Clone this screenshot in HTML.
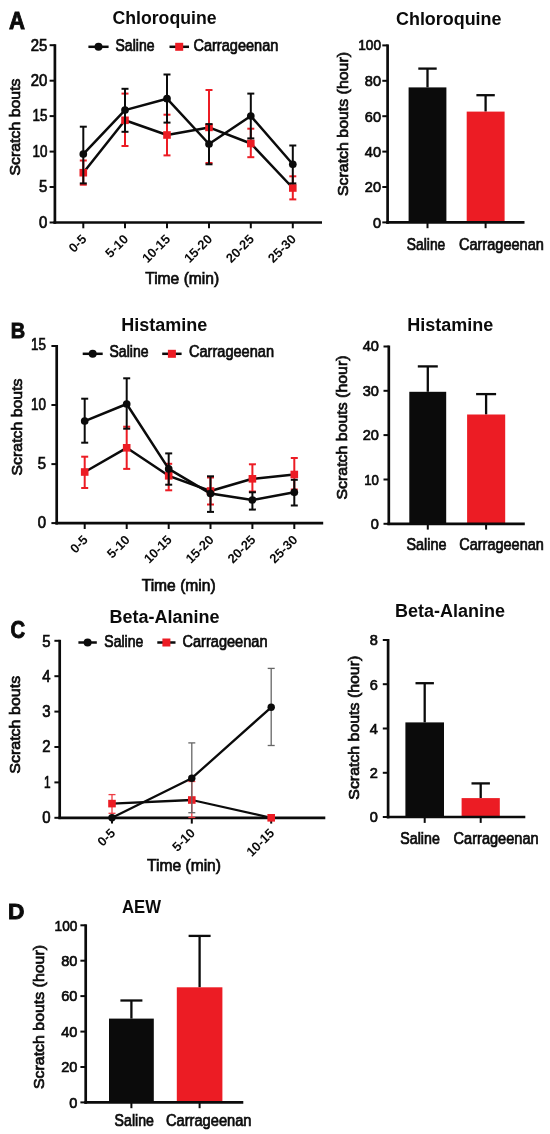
<!DOCTYPE html>
<html><head><meta charset="utf-8"><title>Figure</title>
<style>html,body{margin:0;padding:0;background:#fff}svg{display:block;font-family:"Liberation Sans", sans-serif}</style></head>
<body><svg width="550" height="1134" viewBox="0 0 550 1134">
<rect width="550" height="1134" fill="#fff"/>
<!-- Panel A line -->
<line x1="54.9" y1="44.2" x2="54.9" y2="223.8" stroke="#0b0b0b" stroke-width="2.7"/>
<line x1="53.5" y1="222.5" x2="322.0" y2="222.5" stroke="#0b0b0b" stroke-width="2.7"/>
<line x1="49.6" y1="222.5" x2="54.9" y2="222.5" stroke="#0b0b0b" stroke-width="2.0"/>
<text x="47.4" y="227.8" font-size="15.8" text-anchor="end" fill="#0b0b0b" stroke="#0b0b0b" stroke-width="0.7" textLength="8.3" lengthAdjust="spacingAndGlyphs">0</text>
<line x1="49.6" y1="187.0" x2="54.9" y2="187.0" stroke="#0b0b0b" stroke-width="2.0"/>
<text x="47.4" y="192.34" font-size="15.8" text-anchor="end" fill="#0b0b0b" stroke="#0b0b0b" stroke-width="0.7" textLength="8.3" lengthAdjust="spacingAndGlyphs">5</text>
<line x1="49.6" y1="151.6" x2="54.9" y2="151.6" stroke="#0b0b0b" stroke-width="2.0"/>
<text x="47.4" y="156.88" font-size="15.8" text-anchor="end" fill="#0b0b0b" stroke="#0b0b0b" stroke-width="0.7" textLength="14.9" lengthAdjust="spacingAndGlyphs">10</text>
<line x1="49.6" y1="116.1" x2="54.9" y2="116.1" stroke="#0b0b0b" stroke-width="2.0"/>
<text x="47.4" y="121.41999999999997" font-size="15.8" text-anchor="end" fill="#0b0b0b" stroke="#0b0b0b" stroke-width="0.7" textLength="14.9" lengthAdjust="spacingAndGlyphs">15</text>
<line x1="49.6" y1="80.7" x2="54.9" y2="80.7" stroke="#0b0b0b" stroke-width="2.0"/>
<text x="47.4" y="85.96" font-size="15.8" text-anchor="end" fill="#0b0b0b" stroke="#0b0b0b" stroke-width="0.7" textLength="16.6" lengthAdjust="spacingAndGlyphs">20</text>
<line x1="49.6" y1="45.2" x2="54.9" y2="45.2" stroke="#0b0b0b" stroke-width="2.0"/>
<text x="47.4" y="50.499999999999986" font-size="15.8" text-anchor="end" fill="#0b0b0b" stroke="#0b0b0b" stroke-width="0.7" textLength="16.6" lengthAdjust="spacingAndGlyphs">25</text>
<line x1="83.3" y1="222.5" x2="83.3" y2="228.3" stroke="#0b0b0b" stroke-width="2.0"/>
<text x="87.3" y="240.0" font-size="13" text-anchor="end" fill="#0b0b0b" font-weight="bold" transform="rotate(-45 87.3 240.0)">0-5</text>
<line x1="125.0" y1="222.5" x2="125.0" y2="228.3" stroke="#0b0b0b" stroke-width="2.0"/>
<text x="129" y="240.0" font-size="13" text-anchor="end" fill="#0b0b0b" font-weight="bold" transform="rotate(-45 129 240.0)">5-10</text>
<line x1="167.0" y1="222.5" x2="167.0" y2="228.3" stroke="#0b0b0b" stroke-width="2.0"/>
<text x="171" y="240.0" font-size="13" text-anchor="end" fill="#0b0b0b" font-weight="bold" transform="rotate(-45 171 240.0)">10-15</text>
<line x1="209.0" y1="222.5" x2="209.0" y2="228.3" stroke="#0b0b0b" stroke-width="2.0"/>
<text x="213" y="240.0" font-size="13" text-anchor="end" fill="#0b0b0b" font-weight="bold" transform="rotate(-45 213 240.0)">15-20</text>
<line x1="250.8" y1="222.5" x2="250.8" y2="228.3" stroke="#0b0b0b" stroke-width="2.0"/>
<text x="254.8" y="240.0" font-size="13" text-anchor="end" fill="#0b0b0b" font-weight="bold" transform="rotate(-45 254.8 240.0)">20-25</text>
<line x1="292.8" y1="222.5" x2="292.8" y2="228.3" stroke="#0b0b0b" stroke-width="2.0"/>
<text x="296.8" y="240.0" font-size="13" text-anchor="end" fill="#0b0b0b" font-weight="bold" transform="rotate(-45 296.8 240.0)">25-30</text>
<line x1="83.3" y1="160.5" x2="83.3" y2="184.7" stroke="#ec1c24" stroke-width="2.0"/>
<line x1="79.8" y1="160.5" x2="86.8" y2="160.5" stroke="#ec1c24" stroke-width="2.0"/>
<line x1="79.8" y1="184.7" x2="86.8" y2="184.7" stroke="#ec1c24" stroke-width="2.0"/>
<line x1="125.0" y1="93.6" x2="125.0" y2="146.0" stroke="#ec1c24" stroke-width="2.0"/>
<line x1="121.5" y1="93.6" x2="128.5" y2="93.6" stroke="#ec1c24" stroke-width="2.0"/>
<line x1="121.5" y1="146.0" x2="128.5" y2="146.0" stroke="#ec1c24" stroke-width="2.0"/>
<line x1="167.0" y1="114.7" x2="167.0" y2="155.4" stroke="#ec1c24" stroke-width="2.0"/>
<line x1="163.5" y1="114.7" x2="170.5" y2="114.7" stroke="#ec1c24" stroke-width="2.0"/>
<line x1="163.5" y1="155.4" x2="170.5" y2="155.4" stroke="#ec1c24" stroke-width="2.0"/>
<line x1="209.0" y1="90.0" x2="209.0" y2="163.0" stroke="#ec1c24" stroke-width="2.0"/>
<line x1="205.5" y1="90.0" x2="212.5" y2="90.0" stroke="#ec1c24" stroke-width="2.0"/>
<line x1="205.5" y1="163.0" x2="212.5" y2="163.0" stroke="#ec1c24" stroke-width="2.0"/>
<line x1="250.8" y1="128.7" x2="250.8" y2="157.2" stroke="#ec1c24" stroke-width="2.0"/>
<line x1="247.3" y1="128.7" x2="254.3" y2="128.7" stroke="#ec1c24" stroke-width="2.0"/>
<line x1="247.3" y1="157.2" x2="254.3" y2="157.2" stroke="#ec1c24" stroke-width="2.0"/>
<line x1="292.8" y1="176.3" x2="292.8" y2="199.4" stroke="#ec1c24" stroke-width="2.0"/>
<line x1="289.3" y1="176.3" x2="296.3" y2="176.3" stroke="#ec1c24" stroke-width="2.0"/>
<line x1="289.3" y1="199.4" x2="296.3" y2="199.4" stroke="#ec1c24" stroke-width="2.0"/>
<polyline fill="none" stroke="#0b0b0b" stroke-width="2.5" stroke-linejoin="round" points="83.3,172.7 125.0,120.3 167.0,135.0 209.0,127.4 250.8,143.5 292.8,188.0"/>
<rect x="79.5" y="168.9" width="7.6" height="7.6" fill="#ec1c24"/>
<rect x="121.2" y="116.5" width="7.6" height="7.6" fill="#ec1c24"/>
<rect x="163.2" y="131.2" width="7.6" height="7.6" fill="#ec1c24"/>
<rect x="205.2" y="123.6" width="7.6" height="7.6" fill="#ec1c24"/>
<rect x="247.0" y="139.7" width="7.6" height="7.6" fill="#ec1c24"/>
<rect x="289.0" y="184.2" width="7.6" height="7.6" fill="#ec1c24"/>
<line x1="83.3" y1="126.7" x2="83.3" y2="183.4" stroke="#0b0b0b" stroke-width="2.0"/>
<line x1="79.8" y1="126.7" x2="86.8" y2="126.7" stroke="#0b0b0b" stroke-width="2.0"/>
<line x1="79.8" y1="183.4" x2="86.8" y2="183.4" stroke="#0b0b0b" stroke-width="2.0"/>
<line x1="125.0" y1="88.8" x2="125.0" y2="131.8" stroke="#0b0b0b" stroke-width="2.0"/>
<line x1="121.5" y1="88.8" x2="128.5" y2="88.8" stroke="#0b0b0b" stroke-width="2.0"/>
<line x1="121.5" y1="131.8" x2="128.5" y2="131.8" stroke="#0b0b0b" stroke-width="2.0"/>
<line x1="167.0" y1="74.5" x2="167.0" y2="122.6" stroke="#0b0b0b" stroke-width="2.0"/>
<line x1="163.5" y1="74.5" x2="170.5" y2="74.5" stroke="#0b0b0b" stroke-width="2.0"/>
<line x1="163.5" y1="122.6" x2="170.5" y2="122.6" stroke="#0b0b0b" stroke-width="2.0"/>
<line x1="209.0" y1="124.1" x2="209.0" y2="164.3" stroke="#0b0b0b" stroke-width="2.0"/>
<line x1="205.5" y1="124.1" x2="212.5" y2="124.1" stroke="#0b0b0b" stroke-width="2.0"/>
<line x1="205.5" y1="164.3" x2="212.5" y2="164.3" stroke="#0b0b0b" stroke-width="2.0"/>
<line x1="250.8" y1="93.6" x2="250.8" y2="138.4" stroke="#0b0b0b" stroke-width="2.0"/>
<line x1="247.3" y1="93.6" x2="254.3" y2="93.6" stroke="#0b0b0b" stroke-width="2.0"/>
<line x1="247.3" y1="138.4" x2="254.3" y2="138.4" stroke="#0b0b0b" stroke-width="2.0"/>
<line x1="292.8" y1="145.5" x2="292.8" y2="183.4" stroke="#0b0b0b" stroke-width="2.0"/>
<line x1="289.3" y1="145.5" x2="296.3" y2="145.5" stroke="#0b0b0b" stroke-width="2.0"/>
<line x1="289.3" y1="183.4" x2="296.3" y2="183.4" stroke="#0b0b0b" stroke-width="2.0"/>
<polyline fill="none" stroke="#0b0b0b" stroke-width="2.5" stroke-linejoin="round" points="83.3,154.1 125.0,110.1 167.0,98.7 209.0,144.0 250.8,116.0 292.8,164.3"/>
<circle cx="83.3" cy="154.1" r="3.85" fill="#0b0b0b"/>
<circle cx="125.0" cy="110.1" r="3.85" fill="#0b0b0b"/>
<circle cx="167.0" cy="98.7" r="3.85" fill="#0b0b0b"/>
<circle cx="209.0" cy="144.0" r="3.85" fill="#0b0b0b"/>
<circle cx="250.8" cy="116.0" r="3.85" fill="#0b0b0b"/>
<circle cx="292.8" cy="164.3" r="3.85" fill="#0b0b0b"/>
<text x="112.5" y="23.5" font-size="17.5" text-anchor="start" fill="#0b0b0b" font-weight="bold" textLength="104" lengthAdjust="spacingAndGlyphs">Chloroquine</text>
<text x="8.9" y="29.2" font-size="23.3" text-anchor="start" fill="#0b0b0b" font-weight="bold" stroke="#0b0b0b" stroke-width="0.9" textLength="16.0" lengthAdjust="spacingAndGlyphs">A</text>
<line x1="88.4" y1="46.8" x2="108.6" y2="46.8" stroke="#0b0b0b" stroke-width="2.5"/>
<circle cx="98.5" cy="46.8" r="4" fill="#0b0b0b"/>
<text x="115.5" y="51.4" font-size="15.6" text-anchor="start" fill="#0b0b0b" stroke="#0b0b0b" stroke-width="0.7" textLength="39" lengthAdjust="spacingAndGlyphs">Saline</text>
<line x1="169.5" y1="46.8" x2="189.0" y2="46.8" stroke="#0b0b0b" stroke-width="2.5"/>
<rect x="175.2" y="42.8" width="8.0" height="8.0" fill="#ec1c24"/>
<text x="193.4" y="51.4" font-size="15.6" text-anchor="start" fill="#0b0b0b" stroke="#0b0b0b" stroke-width="0.7" textLength="85" lengthAdjust="spacingAndGlyphs">Carrageenan</text>
<text x="19.9" y="127" font-size="15.5" text-anchor="middle" fill="#0b0b0b" stroke="#0b0b0b" stroke-width="0.7" transform="rotate(-90 19.9 127)" textLength="97" lengthAdjust="spacingAndGlyphs">Scratch bouts</text>
<text x="145.2" y="284.4" font-size="15.6" text-anchor="start" fill="#0b0b0b" stroke="#0b0b0b" stroke-width="0.7" textLength="74" lengthAdjust="spacingAndGlyphs">Time (min)</text>
<!-- Panel A bar -->
<line x1="427.5" y1="68.6" x2="427.5" y2="87.4" stroke="#0b0b0b" stroke-width="2.3"/>
<line x1="418.3" y1="68.6" x2="436.7" y2="68.6" stroke="#0b0b0b" stroke-width="2.3"/>
<rect x="408.6" y="87.4" width="37.8" height="135.0" fill="#0b0b0b"/>
<line x1="427.5" y1="222.4" x2="427.5" y2="228.2" stroke="#0b0b0b" stroke-width="2.0"/>
<line x1="485.6" y1="95.2" x2="485.6" y2="111.6" stroke="#0b0b0b" stroke-width="2.3"/>
<line x1="476.4" y1="95.2" x2="494.8" y2="95.2" stroke="#0b0b0b" stroke-width="2.3"/>
<rect x="466.7" y="111.6" width="37.9" height="110.8" fill="#ec1c24"/>
<line x1="485.6" y1="222.4" x2="485.6" y2="228.2" stroke="#0b0b0b" stroke-width="2.0"/>
<line x1="387.6" y1="44.4" x2="387.6" y2="223.8" stroke="#0b0b0b" stroke-width="2.7"/>
<line x1="386.2" y1="222.4" x2="524.5" y2="222.4" stroke="#0b0b0b" stroke-width="2.7"/>
<line x1="382.3" y1="222.4" x2="387.6" y2="222.4" stroke="#0b0b0b" stroke-width="2.0"/>
<text x="381.0" y="227.70000000000002" font-size="15.3" text-anchor="end" fill="#0b0b0b" stroke="#0b0b0b" stroke-width="0.7" textLength="8.1" lengthAdjust="spacingAndGlyphs">0</text>
<line x1="382.3" y1="187.0" x2="387.6" y2="187.0" stroke="#0b0b0b" stroke-width="2.0"/>
<text x="381.0" y="192.3" font-size="15.3" text-anchor="end" fill="#0b0b0b" stroke="#0b0b0b" stroke-width="0.7" textLength="16.2" lengthAdjust="spacingAndGlyphs">20</text>
<line x1="382.3" y1="151.6" x2="387.6" y2="151.6" stroke="#0b0b0b" stroke-width="2.0"/>
<text x="381.0" y="156.90000000000003" font-size="15.3" text-anchor="end" fill="#0b0b0b" stroke="#0b0b0b" stroke-width="0.7" textLength="16.2" lengthAdjust="spacingAndGlyphs">40</text>
<line x1="382.3" y1="116.2" x2="387.6" y2="116.2" stroke="#0b0b0b" stroke-width="2.0"/>
<text x="381.0" y="121.5" font-size="15.3" text-anchor="end" fill="#0b0b0b" stroke="#0b0b0b" stroke-width="0.7" textLength="16.2" lengthAdjust="spacingAndGlyphs">60</text>
<line x1="382.3" y1="80.8" x2="387.6" y2="80.8" stroke="#0b0b0b" stroke-width="2.0"/>
<text x="381.0" y="86.10000000000001" font-size="15.3" text-anchor="end" fill="#0b0b0b" stroke="#0b0b0b" stroke-width="0.7" textLength="16.2" lengthAdjust="spacingAndGlyphs">80</text>
<line x1="382.3" y1="45.4" x2="387.6" y2="45.4" stroke="#0b0b0b" stroke-width="2.0"/>
<text x="381.0" y="49.7" font-size="15.3" text-anchor="end" fill="#0b0b0b" stroke="#0b0b0b" stroke-width="0.7" textLength="22.799999999999997" lengthAdjust="spacingAndGlyphs">100</text>
<text x="396" y="24.7" font-size="17.5" text-anchor="start" fill="#0b0b0b" font-weight="bold" textLength="105.5" lengthAdjust="spacingAndGlyphs">Chloroquine</text>
<text x="348" y="124" font-size="15.5" text-anchor="middle" fill="#0b0b0b" stroke="#0b0b0b" stroke-width="0.7" transform="rotate(-90 348 124)" textLength="144" lengthAdjust="spacingAndGlyphs">Scratch bouts (hour)</text>
<text x="406.8" y="249.8" font-size="15.6" text-anchor="start" fill="#0b0b0b" stroke="#0b0b0b" stroke-width="0.7" textLength="38.5" lengthAdjust="spacingAndGlyphs">Saline</text>
<text x="458.9" y="249.8" font-size="15.6" text-anchor="start" fill="#0b0b0b" stroke="#0b0b0b" stroke-width="0.7" textLength="85" lengthAdjust="spacingAndGlyphs">Carrageenan</text>
<!-- Panel B line -->
<line x1="56.7" y1="345.0" x2="56.7" y2="524.5" stroke="#0b0b0b" stroke-width="2.7"/>
<line x1="55.4" y1="523.1" x2="323.2" y2="523.1" stroke="#0b0b0b" stroke-width="2.7"/>
<line x1="51.4" y1="523.1" x2="56.7" y2="523.1" stroke="#0b0b0b" stroke-width="2.0"/>
<text x="46.0" y="528.4" font-size="15.8" text-anchor="end" fill="#0b0b0b" stroke="#0b0b0b" stroke-width="0.7" textLength="8.3" lengthAdjust="spacingAndGlyphs">0</text>
<line x1="51.4" y1="464.1" x2="56.7" y2="464.1" stroke="#0b0b0b" stroke-width="2.0"/>
<text x="46.0" y="469.3666666666667" font-size="15.8" text-anchor="end" fill="#0b0b0b" stroke="#0b0b0b" stroke-width="0.7" textLength="8.3" lengthAdjust="spacingAndGlyphs">5</text>
<line x1="51.4" y1="405.0" x2="56.7" y2="405.0" stroke="#0b0b0b" stroke-width="2.0"/>
<text x="46.0" y="410.33333333333337" font-size="15.8" text-anchor="end" fill="#0b0b0b" stroke="#0b0b0b" stroke-width="0.7" textLength="14.9" lengthAdjust="spacingAndGlyphs">10</text>
<line x1="51.4" y1="346.0" x2="56.7" y2="346.0" stroke="#0b0b0b" stroke-width="2.0"/>
<text x="46.0" y="350.0" font-size="15.8" text-anchor="end" fill="#0b0b0b" stroke="#0b0b0b" stroke-width="0.7" textLength="14.9" lengthAdjust="spacingAndGlyphs">15</text>
<line x1="84.7" y1="523.1" x2="84.7" y2="529.0" stroke="#0b0b0b" stroke-width="2.0"/>
<text x="88.7" y="540.6" font-size="13" text-anchor="end" fill="#0b0b0b" font-weight="bold" transform="rotate(-45 88.7 540.6)">0-5</text>
<line x1="126.7" y1="523.1" x2="126.7" y2="529.0" stroke="#0b0b0b" stroke-width="2.0"/>
<text x="130.7" y="540.6" font-size="13" text-anchor="end" fill="#0b0b0b" font-weight="bold" transform="rotate(-45 130.7 540.6)">5-10</text>
<line x1="168.7" y1="523.1" x2="168.7" y2="529.0" stroke="#0b0b0b" stroke-width="2.0"/>
<text x="172.7" y="540.6" font-size="13" text-anchor="end" fill="#0b0b0b" font-weight="bold" transform="rotate(-45 172.7 540.6)">10-15</text>
<line x1="210.5" y1="523.1" x2="210.5" y2="529.0" stroke="#0b0b0b" stroke-width="2.0"/>
<text x="214.5" y="540.6" font-size="13" text-anchor="end" fill="#0b0b0b" font-weight="bold" transform="rotate(-45 214.5 540.6)">15-20</text>
<line x1="252.4" y1="523.1" x2="252.4" y2="529.0" stroke="#0b0b0b" stroke-width="2.0"/>
<text x="256.4" y="540.6" font-size="13" text-anchor="end" fill="#0b0b0b" font-weight="bold" transform="rotate(-45 256.4 540.6)">20-25</text>
<line x1="294.3" y1="523.1" x2="294.3" y2="529.0" stroke="#0b0b0b" stroke-width="2.0"/>
<text x="298.3" y="540.6" font-size="13" text-anchor="end" fill="#0b0b0b" font-weight="bold" transform="rotate(-45 298.3 540.6)">25-30</text>
<line x1="84.7" y1="456.7" x2="84.7" y2="488.0" stroke="#ec1c24" stroke-width="2.0"/>
<line x1="81.2" y1="456.7" x2="88.2" y2="456.7" stroke="#ec1c24" stroke-width="2.0"/>
<line x1="81.2" y1="488.0" x2="88.2" y2="488.0" stroke="#ec1c24" stroke-width="2.0"/>
<line x1="126.7" y1="426.7" x2="126.7" y2="468.9" stroke="#ec1c24" stroke-width="2.0"/>
<line x1="123.2" y1="426.7" x2="130.2" y2="426.7" stroke="#ec1c24" stroke-width="2.0"/>
<line x1="123.2" y1="468.9" x2="130.2" y2="468.9" stroke="#ec1c24" stroke-width="2.0"/>
<line x1="168.7" y1="463.8" x2="168.7" y2="490.3" stroke="#ec1c24" stroke-width="2.0"/>
<line x1="165.2" y1="463.8" x2="172.2" y2="463.8" stroke="#ec1c24" stroke-width="2.0"/>
<line x1="165.2" y1="490.3" x2="172.2" y2="490.3" stroke="#ec1c24" stroke-width="2.0"/>
<line x1="210.5" y1="477.5" x2="210.5" y2="504.5" stroke="#ec1c24" stroke-width="2.0"/>
<line x1="207.0" y1="477.5" x2="214.0" y2="477.5" stroke="#ec1c24" stroke-width="2.0"/>
<line x1="207.0" y1="504.5" x2="214.0" y2="504.5" stroke="#ec1c24" stroke-width="2.0"/>
<line x1="252.4" y1="464.3" x2="252.4" y2="491.5" stroke="#ec1c24" stroke-width="2.0"/>
<line x1="248.9" y1="464.3" x2="255.9" y2="464.3" stroke="#ec1c24" stroke-width="2.0"/>
<line x1="248.9" y1="491.5" x2="255.9" y2="491.5" stroke="#ec1c24" stroke-width="2.0"/>
<line x1="294.3" y1="458.0" x2="294.3" y2="489.5" stroke="#ec1c24" stroke-width="2.0"/>
<line x1="290.8" y1="458.0" x2="297.8" y2="458.0" stroke="#ec1c24" stroke-width="2.0"/>
<line x1="290.8" y1="489.5" x2="297.8" y2="489.5" stroke="#ec1c24" stroke-width="2.0"/>
<polyline fill="none" stroke="#0b0b0b" stroke-width="2.5" stroke-linejoin="round" points="84.7,472.0 126.7,447.8 168.7,475.8 210.5,491.0 252.4,478.8 294.3,474.5"/>
<rect x="80.9" y="468.2" width="7.6" height="7.6" fill="#ec1c24"/>
<rect x="122.9" y="444.0" width="7.6" height="7.6" fill="#ec1c24"/>
<rect x="164.9" y="472.0" width="7.6" height="7.6" fill="#ec1c24"/>
<rect x="206.7" y="487.2" width="7.6" height="7.6" fill="#ec1c24"/>
<rect x="248.6" y="475.0" width="7.6" height="7.6" fill="#ec1c24"/>
<rect x="290.5" y="470.7" width="7.6" height="7.6" fill="#ec1c24"/>
<line x1="84.7" y1="398.7" x2="84.7" y2="442.7" stroke="#0b0b0b" stroke-width="2.0"/>
<line x1="81.2" y1="398.7" x2="88.2" y2="398.7" stroke="#0b0b0b" stroke-width="2.0"/>
<line x1="81.2" y1="442.7" x2="88.2" y2="442.7" stroke="#0b0b0b" stroke-width="2.0"/>
<line x1="126.7" y1="378.3" x2="126.7" y2="428.7" stroke="#0b0b0b" stroke-width="2.0"/>
<line x1="123.2" y1="378.3" x2="130.2" y2="378.3" stroke="#0b0b0b" stroke-width="2.0"/>
<line x1="123.2" y1="428.7" x2="130.2" y2="428.7" stroke="#0b0b0b" stroke-width="2.0"/>
<line x1="168.7" y1="453.4" x2="168.7" y2="484.7" stroke="#0b0b0b" stroke-width="2.0"/>
<line x1="165.2" y1="453.4" x2="172.2" y2="453.4" stroke="#0b0b0b" stroke-width="2.0"/>
<line x1="165.2" y1="484.7" x2="172.2" y2="484.7" stroke="#0b0b0b" stroke-width="2.0"/>
<line x1="210.5" y1="476.3" x2="210.5" y2="511.9" stroke="#0b0b0b" stroke-width="2.0"/>
<line x1="207.0" y1="476.3" x2="214.0" y2="476.3" stroke="#0b0b0b" stroke-width="2.0"/>
<line x1="207.0" y1="511.9" x2="214.0" y2="511.9" stroke="#0b0b0b" stroke-width="2.0"/>
<line x1="252.4" y1="492.3" x2="252.4" y2="509.6" stroke="#0b0b0b" stroke-width="2.0"/>
<line x1="248.9" y1="492.3" x2="255.9" y2="492.3" stroke="#0b0b0b" stroke-width="2.0"/>
<line x1="248.9" y1="509.6" x2="255.9" y2="509.6" stroke="#0b0b0b" stroke-width="2.0"/>
<line x1="294.3" y1="479.8" x2="294.3" y2="505.5" stroke="#0b0b0b" stroke-width="2.0"/>
<line x1="290.8" y1="479.8" x2="297.8" y2="479.8" stroke="#0b0b0b" stroke-width="2.0"/>
<line x1="290.8" y1="505.5" x2="297.8" y2="505.5" stroke="#0b0b0b" stroke-width="2.0"/>
<polyline fill="none" stroke="#0b0b0b" stroke-width="2.5" stroke-linejoin="round" points="84.7,421.1 126.7,404.0 168.7,468.9 210.5,493.6 252.4,500.0 294.3,492.3"/>
<circle cx="84.7" cy="421.1" r="3.85" fill="#0b0b0b"/>
<circle cx="126.7" cy="404.0" r="3.85" fill="#0b0b0b"/>
<circle cx="168.7" cy="468.9" r="3.85" fill="#0b0b0b"/>
<circle cx="210.5" cy="493.6" r="3.85" fill="#0b0b0b"/>
<circle cx="252.4" cy="500.0" r="3.85" fill="#0b0b0b"/>
<circle cx="294.3" cy="492.3" r="3.85" fill="#0b0b0b"/>
<text x="121.3" y="331.2" font-size="17.5" text-anchor="start" fill="#0b0b0b" font-weight="bold" textLength="86" lengthAdjust="spacingAndGlyphs">Histamine</text>
<text x="10.8" y="337.6" font-size="22.3" text-anchor="start" fill="#0b0b0b" font-weight="bold" stroke="#0b0b0b" stroke-width="0.9" textLength="14.4" lengthAdjust="spacingAndGlyphs">B</text>
<line x1="82.7" y1="353.8" x2="102.7" y2="353.8" stroke="#0b0b0b" stroke-width="2.5"/>
<circle cx="92.7" cy="353.8" r="4" fill="#0b0b0b"/>
<text x="109.5" y="356.7" font-size="15.6" text-anchor="start" fill="#0b0b0b" stroke="#0b0b0b" stroke-width="0.7" textLength="39" lengthAdjust="spacingAndGlyphs">Saline</text>
<line x1="162.2" y1="353.8" x2="181.6" y2="353.8" stroke="#0b0b0b" stroke-width="2.5"/>
<rect x="167.9" y="349.8" width="8.0" height="8.0" fill="#ec1c24"/>
<text x="189" y="356.7" font-size="15.6" text-anchor="start" fill="#0b0b0b" stroke="#0b0b0b" stroke-width="0.7" textLength="85" lengthAdjust="spacingAndGlyphs">Carrageenan</text>
<text x="21.6" y="427" font-size="15.5" text-anchor="middle" fill="#0b0b0b" stroke="#0b0b0b" stroke-width="0.7" transform="rotate(-90 21.6 427)" textLength="97" lengthAdjust="spacingAndGlyphs">Scratch bouts</text>
<text x="141.7" y="591" font-size="15.6" text-anchor="start" fill="#0b0b0b" stroke="#0b0b0b" stroke-width="0.7" textLength="74" lengthAdjust="spacingAndGlyphs">Time (min)</text>
<!-- Panel B bar -->
<line x1="427.8" y1="366.4" x2="427.8" y2="391.8" stroke="#0b0b0b" stroke-width="2.3"/>
<line x1="417.8" y1="366.4" x2="437.8" y2="366.4" stroke="#0b0b0b" stroke-width="2.3"/>
<rect x="409.3" y="391.8" width="36.9" height="132.0" fill="#0b0b0b"/>
<line x1="427.8" y1="523.8" x2="427.8" y2="529.6" stroke="#0b0b0b" stroke-width="2.0"/>
<line x1="486.1" y1="394.1" x2="486.1" y2="414.5" stroke="#0b0b0b" stroke-width="2.3"/>
<line x1="476.1" y1="394.1" x2="496.1" y2="394.1" stroke="#0b0b0b" stroke-width="2.3"/>
<rect x="467.1" y="414.5" width="38.1" height="109.3" fill="#ec1c24"/>
<line x1="486.1" y1="523.8" x2="486.1" y2="529.6" stroke="#0b0b0b" stroke-width="2.0"/>
<line x1="388.8" y1="345.5" x2="388.8" y2="525.1" stroke="#0b0b0b" stroke-width="2.7"/>
<line x1="387.4" y1="523.8" x2="524.8" y2="523.8" stroke="#0b0b0b" stroke-width="2.7"/>
<line x1="383.5" y1="523.8" x2="388.8" y2="523.8" stroke="#0b0b0b" stroke-width="2.0"/>
<text x="378.90000000000003" y="529.0999999999999" font-size="15.3" text-anchor="end" fill="#0b0b0b" stroke="#0b0b0b" stroke-width="0.7" textLength="8.1" lengthAdjust="spacingAndGlyphs">0</text>
<line x1="383.5" y1="479.5" x2="388.8" y2="479.5" stroke="#0b0b0b" stroke-width="2.0"/>
<text x="378.90000000000003" y="484.775" font-size="15.3" text-anchor="end" fill="#0b0b0b" stroke="#0b0b0b" stroke-width="0.7" textLength="14.7" lengthAdjust="spacingAndGlyphs">10</text>
<line x1="383.5" y1="435.1" x2="388.8" y2="435.1" stroke="#0b0b0b" stroke-width="2.0"/>
<text x="378.90000000000003" y="440.45" font-size="15.3" text-anchor="end" fill="#0b0b0b" stroke="#0b0b0b" stroke-width="0.7" textLength="16.2" lengthAdjust="spacingAndGlyphs">20</text>
<line x1="383.5" y1="390.8" x2="388.8" y2="390.8" stroke="#0b0b0b" stroke-width="2.0"/>
<text x="378.90000000000003" y="396.125" font-size="15.3" text-anchor="end" fill="#0b0b0b" stroke="#0b0b0b" stroke-width="0.7" textLength="16.2" lengthAdjust="spacingAndGlyphs">30</text>
<line x1="383.5" y1="346.5" x2="388.8" y2="346.5" stroke="#0b0b0b" stroke-width="2.0"/>
<text x="378.90000000000003" y="350.7" font-size="15.3" text-anchor="end" fill="#0b0b0b" stroke="#0b0b0b" stroke-width="0.7" textLength="16.2" lengthAdjust="spacingAndGlyphs">40</text>
<text x="407.3" y="331.3" font-size="17.5" text-anchor="start" fill="#0b0b0b" font-weight="bold" textLength="86" lengthAdjust="spacingAndGlyphs">Histamine</text>
<text x="347.3" y="427.5" font-size="15.5" text-anchor="middle" fill="#0b0b0b" stroke="#0b0b0b" stroke-width="0.7" transform="rotate(-90 347.3 427.5)" textLength="144" lengthAdjust="spacingAndGlyphs">Scratch bouts (hour)</text>
<text x="406.5" y="550" font-size="15.6" text-anchor="start" fill="#0b0b0b" stroke="#0b0b0b" stroke-width="0.7" textLength="40" lengthAdjust="spacingAndGlyphs">Saline</text>
<text x="459.3" y="550" font-size="15.6" text-anchor="start" fill="#0b0b0b" stroke="#0b0b0b" stroke-width="0.7" textLength="84.5" lengthAdjust="spacingAndGlyphs">Carrageenan</text>
<!-- Panel C line -->
<line x1="59.7" y1="639.8" x2="59.7" y2="819.1" stroke="#0b0b0b" stroke-width="2.7"/>
<line x1="58.4" y1="817.8" x2="325.3" y2="817.8" stroke="#0b0b0b" stroke-width="2.7"/>
<line x1="54.4" y1="817.8" x2="59.7" y2="817.8" stroke="#0b0b0b" stroke-width="2.0"/>
<text x="50.6" y="823.0999999999999" font-size="15.8" text-anchor="end" fill="#0b0b0b" stroke="#0b0b0b" stroke-width="0.7" textLength="8.3" lengthAdjust="spacingAndGlyphs">0</text>
<line x1="54.4" y1="782.4" x2="59.7" y2="782.4" stroke="#0b0b0b" stroke-width="2.0"/>
<text x="50.6" y="787.6999999999999" font-size="15.8" text-anchor="end" fill="#0b0b0b" stroke="#0b0b0b" stroke-width="0.7" textLength="6.6" lengthAdjust="spacingAndGlyphs">1</text>
<line x1="54.4" y1="747.0" x2="59.7" y2="747.0" stroke="#0b0b0b" stroke-width="2.0"/>
<text x="50.6" y="752.3" font-size="15.8" text-anchor="end" fill="#0b0b0b" stroke="#0b0b0b" stroke-width="0.7" textLength="8.3" lengthAdjust="spacingAndGlyphs">2</text>
<line x1="54.4" y1="711.6" x2="59.7" y2="711.6" stroke="#0b0b0b" stroke-width="2.0"/>
<text x="50.6" y="716.8999999999999" font-size="15.8" text-anchor="end" fill="#0b0b0b" stroke="#0b0b0b" stroke-width="0.7" textLength="8.3" lengthAdjust="spacingAndGlyphs">3</text>
<line x1="54.4" y1="676.2" x2="59.7" y2="676.2" stroke="#0b0b0b" stroke-width="2.0"/>
<text x="50.6" y="681.4999999999999" font-size="15.8" text-anchor="end" fill="#0b0b0b" stroke="#0b0b0b" stroke-width="0.7" textLength="8.3" lengthAdjust="spacingAndGlyphs">4</text>
<line x1="54.4" y1="640.8" x2="59.7" y2="640.8" stroke="#0b0b0b" stroke-width="2.0"/>
<text x="50.6" y="647.3999999999999" font-size="15.8" text-anchor="end" fill="#0b0b0b" stroke="#0b0b0b" stroke-width="0.7" textLength="8.3" lengthAdjust="spacingAndGlyphs">5</text>
<line x1="112.0" y1="817.8" x2="112.0" y2="823.6" stroke="#0b0b0b" stroke-width="2.0"/>
<text x="116" y="833.8" font-size="13" text-anchor="end" fill="#0b0b0b" font-weight="bold" transform="rotate(-45 116 833.8)">0-5</text>
<line x1="191.8" y1="817.8" x2="191.8" y2="823.6" stroke="#0b0b0b" stroke-width="2.0"/>
<text x="195.8" y="833.8" font-size="13" text-anchor="end" fill="#0b0b0b" font-weight="bold" transform="rotate(-45 195.8 833.8)">5-10</text>
<line x1="271.2" y1="817.8" x2="271.2" y2="823.6" stroke="#0b0b0b" stroke-width="2.0"/>
<text x="275.2" y="833.8" font-size="13" text-anchor="end" fill="#0b0b0b" font-weight="bold" transform="rotate(-45 275.2 833.8)">10-15</text>
<line x1="112.0" y1="794.6" x2="112.0" y2="813.3" stroke="#ee3d44" stroke-width="1.3"/>
<line x1="108.5" y1="794.6" x2="115.5" y2="794.6" stroke="#ee3d44" stroke-width="1.3"/>
<line x1="108.5" y1="813.3" x2="115.5" y2="813.3" stroke="#ee3d44" stroke-width="1.3"/>
<line x1="191.8" y1="781.5" x2="191.8" y2="817.5" stroke="#ee3d44" stroke-width="1.3"/>
<line x1="188.3" y1="781.5" x2="195.3" y2="781.5" stroke="#ee3d44" stroke-width="1.3"/>
<line x1="188.3" y1="817.5" x2="195.3" y2="817.5" stroke="#ee3d44" stroke-width="1.3"/>
<polyline fill="none" stroke="#0b0b0b" stroke-width="2.3" stroke-linejoin="round" points="112.0,803.6 191.8,800.0 271.2,817.8"/>
<rect x="108.2" y="799.8" width="7.6" height="7.6" fill="#ec1c24"/>
<rect x="188.0" y="796.2" width="7.6" height="7.6" fill="#ec1c24"/>
<rect x="267.4" y="814.0" width="7.6" height="7.6" fill="#ec1c24"/>
<line x1="191.8" y1="742.9" x2="191.8" y2="812.7" stroke="#666" stroke-width="1.3"/>
<line x1="188.3" y1="742.9" x2="195.3" y2="742.9" stroke="#666" stroke-width="1.3"/>
<line x1="188.3" y1="812.7" x2="195.3" y2="812.7" stroke="#666" stroke-width="1.3"/>
<line x1="271.2" y1="668.4" x2="271.2" y2="745.5" stroke="#666" stroke-width="1.3"/>
<line x1="267.7" y1="668.4" x2="274.7" y2="668.4" stroke="#666" stroke-width="1.3"/>
<line x1="267.7" y1="745.5" x2="274.7" y2="745.5" stroke="#666" stroke-width="1.3"/>
<polyline fill="none" stroke="#0b0b0b" stroke-width="2.3" stroke-linejoin="round" points="112.0,817.8 191.8,778.2 271.2,707.3"/>
<circle cx="112.0" cy="817.8" r="3.7" fill="#0b0b0b"/>
<circle cx="191.8" cy="778.2" r="3.7" fill="#0b0b0b"/>
<circle cx="271.2" cy="707.3" r="3.7" fill="#0b0b0b"/>
<text x="109.5" y="622.7" font-size="17.5" text-anchor="start" fill="#0b0b0b" font-weight="bold" textLength="110" lengthAdjust="spacingAndGlyphs">Beta-Alanine</text>
<text x="10.6" y="638.1" font-size="23.2" text-anchor="start" fill="#0b0b0b" font-weight="bold" stroke="#0b0b0b" stroke-width="0.9" textLength="14.6" lengthAdjust="spacingAndGlyphs">C</text>
<line x1="78.4" y1="642.5" x2="96.8" y2="642.5" stroke="#0b0b0b" stroke-width="2.5"/>
<circle cx="87.6" cy="642.5" r="4" fill="#0b0b0b"/>
<text x="104.3" y="647.1" font-size="15.6" text-anchor="start" fill="#0b0b0b" stroke="#0b0b0b" stroke-width="0.7" textLength="39" lengthAdjust="spacingAndGlyphs">Saline</text>
<line x1="157.3" y1="642.5" x2="175.5" y2="642.5" stroke="#0b0b0b" stroke-width="2.5"/>
<rect x="162.4" y="638.5" width="8.0" height="8.0" fill="#ec1c24"/>
<text x="182.5" y="647.1" font-size="15.6" text-anchor="start" fill="#0b0b0b" stroke="#0b0b0b" stroke-width="0.7" textLength="85" lengthAdjust="spacingAndGlyphs">Carrageenan</text>
<text x="20" y="724.8" font-size="15.5" text-anchor="middle" fill="#0b0b0b" stroke="#0b0b0b" stroke-width="0.7" transform="rotate(-90 20 724.8)" textLength="98" lengthAdjust="spacingAndGlyphs">Scratch bouts</text>
<text x="147" y="871.2" font-size="15.6" text-anchor="start" fill="#0b0b0b" stroke="#0b0b0b" stroke-width="0.7" textLength="74" lengthAdjust="spacingAndGlyphs">Time (min)</text>
<!-- Panel C bar -->
<line x1="424.7" y1="683.2" x2="424.7" y2="722.4" stroke="#0b0b0b" stroke-width="2.3"/>
<line x1="415.5" y1="683.2" x2="433.9" y2="683.2" stroke="#0b0b0b" stroke-width="2.3"/>
<rect x="405.4" y="722.4" width="38.6" height="94.6" fill="#0b0b0b"/>
<line x1="424.7" y1="817.0" x2="424.7" y2="822.9" stroke="#0b0b0b" stroke-width="2.0"/>
<line x1="480.7" y1="783.4" x2="480.7" y2="798.1" stroke="#0b0b0b" stroke-width="2.3"/>
<line x1="471.5" y1="783.4" x2="489.9" y2="783.4" stroke="#0b0b0b" stroke-width="2.3"/>
<rect x="461.6" y="798.1" width="38.2" height="18.9" fill="#ec1c24"/>
<line x1="480.7" y1="817.0" x2="480.7" y2="822.9" stroke="#0b0b0b" stroke-width="2.0"/>
<line x1="388.1" y1="639.0" x2="388.1" y2="818.4" stroke="#0b0b0b" stroke-width="2.7"/>
<line x1="386.8" y1="817.0" x2="525.3" y2="817.0" stroke="#0b0b0b" stroke-width="2.7"/>
<line x1="382.8" y1="817.0" x2="388.1" y2="817.0" stroke="#0b0b0b" stroke-width="2.0"/>
<text x="377.8" y="822.3" font-size="15.3" text-anchor="end" fill="#0b0b0b" stroke="#0b0b0b" stroke-width="0.7" textLength="8.1" lengthAdjust="spacingAndGlyphs">0</text>
<line x1="382.8" y1="772.8" x2="388.1" y2="772.8" stroke="#0b0b0b" stroke-width="2.0"/>
<text x="377.8" y="778.05" font-size="15.3" text-anchor="end" fill="#0b0b0b" stroke="#0b0b0b" stroke-width="0.7" textLength="8.1" lengthAdjust="spacingAndGlyphs">2</text>
<line x1="382.8" y1="728.5" x2="388.1" y2="728.5" stroke="#0b0b0b" stroke-width="2.0"/>
<text x="377.8" y="733.8" font-size="15.3" text-anchor="end" fill="#0b0b0b" stroke="#0b0b0b" stroke-width="0.7" textLength="8.1" lengthAdjust="spacingAndGlyphs">4</text>
<line x1="382.8" y1="684.2" x2="388.1" y2="684.2" stroke="#0b0b0b" stroke-width="2.0"/>
<text x="377.8" y="689.55" font-size="15.3" text-anchor="end" fill="#0b0b0b" stroke="#0b0b0b" stroke-width="0.7" textLength="8.1" lengthAdjust="spacingAndGlyphs">6</text>
<line x1="382.8" y1="640.0" x2="388.1" y2="640.0" stroke="#0b0b0b" stroke-width="2.0"/>
<text x="377.8" y="645.3" font-size="15.3" text-anchor="end" fill="#0b0b0b" stroke="#0b0b0b" stroke-width="0.7" textLength="8.1" lengthAdjust="spacingAndGlyphs">8</text>
<text x="395" y="617.2" font-size="17.5" text-anchor="start" fill="#0b0b0b" font-weight="bold" textLength="110" lengthAdjust="spacingAndGlyphs">Beta-Alanine</text>
<text x="358.7" y="727.7" font-size="15.5" text-anchor="middle" fill="#0b0b0b" stroke="#0b0b0b" stroke-width="0.7" transform="rotate(-90 358.7 727.7)" textLength="144" lengthAdjust="spacingAndGlyphs">Scratch bouts (hour)</text>
<text x="400.3" y="844.2" font-size="15.6" text-anchor="start" fill="#0b0b0b" stroke="#0b0b0b" stroke-width="0.7" textLength="39.5" lengthAdjust="spacingAndGlyphs">Saline</text>
<text x="453.6" y="844.2" font-size="15.6" text-anchor="start" fill="#0b0b0b" stroke="#0b0b0b" stroke-width="0.7" textLength="85" lengthAdjust="spacingAndGlyphs">Carrageenan</text>
<!-- Panel D bar -->
<line x1="131.4" y1="1000.5" x2="131.4" y2="1018.6" stroke="#0b0b0b" stroke-width="2.3"/>
<line x1="120.4" y1="1000.5" x2="142.4" y2="1000.5" stroke="#0b0b0b" stroke-width="2.3"/>
<rect x="109.0" y="1018.6" width="44.8" height="83.8" fill="#0b0b0b"/>
<line x1="131.4" y1="1102.4" x2="131.4" y2="1108.2" stroke="#0b0b0b" stroke-width="2.0"/>
<line x1="199.6" y1="935.9" x2="199.6" y2="987.3" stroke="#0b0b0b" stroke-width="2.3"/>
<line x1="188.6" y1="935.9" x2="210.6" y2="935.9" stroke="#0b0b0b" stroke-width="2.3"/>
<rect x="176.8" y="987.3" width="45.6" height="115.1" fill="#ec1c24"/>
<line x1="199.6" y1="1102.4" x2="199.6" y2="1108.2" stroke="#0b0b0b" stroke-width="2.0"/>
<line x1="85.7" y1="924.3" x2="85.7" y2="1103.8" stroke="#0b0b0b" stroke-width="2.7"/>
<line x1="84.4" y1="1102.4" x2="243.3" y2="1102.4" stroke="#0b0b0b" stroke-width="2.7"/>
<line x1="80.4" y1="1102.4" x2="85.7" y2="1102.4" stroke="#0b0b0b" stroke-width="2.0"/>
<text x="77.4" y="1107.7" font-size="15.3" text-anchor="end" fill="#0b0b0b" stroke="#0b0b0b" stroke-width="0.7" textLength="8.1" lengthAdjust="spacingAndGlyphs">0</text>
<line x1="80.4" y1="1067.0" x2="85.7" y2="1067.0" stroke="#0b0b0b" stroke-width="2.0"/>
<text x="77.4" y="1072.28" font-size="15.3" text-anchor="end" fill="#0b0b0b" stroke="#0b0b0b" stroke-width="0.7" textLength="16.2" lengthAdjust="spacingAndGlyphs">20</text>
<line x1="80.4" y1="1031.6" x2="85.7" y2="1031.6" stroke="#0b0b0b" stroke-width="2.0"/>
<text x="77.4" y="1036.86" font-size="15.3" text-anchor="end" fill="#0b0b0b" stroke="#0b0b0b" stroke-width="0.7" textLength="16.2" lengthAdjust="spacingAndGlyphs">40</text>
<line x1="80.4" y1="996.1" x2="85.7" y2="996.1" stroke="#0b0b0b" stroke-width="2.0"/>
<text x="77.4" y="1001.4399999999999" font-size="15.3" text-anchor="end" fill="#0b0b0b" stroke="#0b0b0b" stroke-width="0.7" textLength="16.2" lengthAdjust="spacingAndGlyphs">60</text>
<line x1="80.4" y1="960.7" x2="85.7" y2="960.7" stroke="#0b0b0b" stroke-width="2.0"/>
<text x="77.4" y="966.02" font-size="15.3" text-anchor="end" fill="#0b0b0b" stroke="#0b0b0b" stroke-width="0.7" textLength="16.2" lengthAdjust="spacingAndGlyphs">80</text>
<line x1="80.4" y1="925.3" x2="85.7" y2="925.3" stroke="#0b0b0b" stroke-width="2.0"/>
<text x="77.4" y="930.5999999999999" font-size="15.3" text-anchor="end" fill="#0b0b0b" stroke="#0b0b0b" stroke-width="0.7" textLength="22.799999999999997" lengthAdjust="spacingAndGlyphs">100</text>
<text x="122" y="913.1" font-size="17.5" text-anchor="start" fill="#0b0b0b" font-weight="bold" textLength="39" lengthAdjust="spacingAndGlyphs">AEW</text>
<text x="44.3" y="1017" font-size="15.5" text-anchor="middle" fill="#0b0b0b" stroke="#0b0b0b" stroke-width="0.7" transform="rotate(-90 44.3 1017)" textLength="144" lengthAdjust="spacingAndGlyphs">Scratch bouts (hour)</text>
<text x="114.6" y="1125.8" font-size="15.6" text-anchor="start" fill="#0b0b0b" stroke="#0b0b0b" stroke-width="0.7" textLength="39.3" lengthAdjust="spacingAndGlyphs">Saline</text>
<text x="166" y="1125.8" font-size="15.6" text-anchor="start" fill="#0b0b0b" stroke="#0b0b0b" stroke-width="0.7" textLength="85.5" lengthAdjust="spacingAndGlyphs">Carrageenan</text>
<text x="8.0" y="919.3" font-size="22.6" text-anchor="start" fill="#0b0b0b" font-weight="bold" stroke="#0b0b0b" stroke-width="0.9" textLength="16.4" lengthAdjust="spacingAndGlyphs">D</text>
</svg></body></html>
